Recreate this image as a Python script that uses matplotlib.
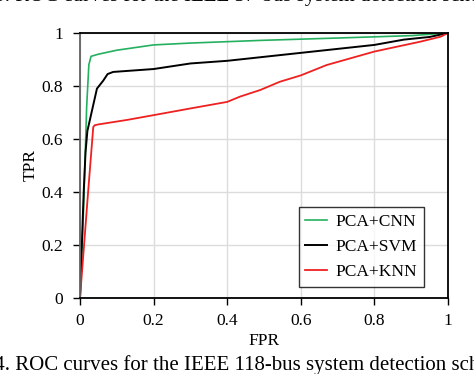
import matplotlib.pyplot as plt

# ROC data
cnn_fpr = [0, 0.01, 0.018, 0.024, 0.03, 0.05, 0.1, 0.2, 0.3, 0.49, 0.7, 0.9, 1.0]
cnn_tpr = [0, 0.35, 0.72, 0.88, 0.912, 0.92, 0.935, 0.955, 0.962, 0.972, 0.981, 0.99, 1.0]

svm_fpr = [0, 0.01, 0.015, 0.02, 0.033, 0.046, 0.063, 0.075, 0.09, 0.2, 0.3, 0.4, 0.5,
           0.6, 0.7, 0.8, 0.88, 0.95, 1.0]
svm_tpr = [0, 0.4, 0.55, 0.63, 0.71, 0.79, 0.82, 0.845, 0.853, 0.864, 0.885, 0.895, 0.91,
           0.925, 0.94, 0.955, 0.975, 0.985, 1.0]

knn_fpr = [0, 0.022, 0.036, 0.04, 0.05, 0.128, 0.2, 0.307, 0.4, 0.435, 0.49, 0.543, 0.6,
           0.67, 0.8, 0.924, 0.98, 1.0]
knn_tpr = [0, 0.4, 0.645, 0.652, 0.655, 0.672, 0.69, 0.717, 0.74, 0.76, 0.785, 0.816, 0.84,
           0.879, 0.93, 0.967, 0.986, 1.0]

ticks = [0, 0.2, 0.4, 0.6, 0.8, 1]
tick_labels = ["0", "0.2", "0.4", "0.6", "0.8", "1"]

plt.rcParams["font.family"] = ["Liberation Serif", "DejaVu Serif"]

fig = plt.figure(figsize=(4.74, 3.74), dpi=100)
ax = fig.add_axes([0.1688, 0.2032, 0.7764, 0.7086])

ax.plot(cnn_fpr, cnn_tpr, color="#25b060", lw=1.2, label="PCA+CNN")
ax.plot(svm_fpr, svm_tpr, color="black", lw=1.4, label="PCA+SVM")
ax.plot(knn_fpr, knn_tpr, color="#ee2020", lw=1.3, label="PCA+KNN")

ax.set_xlim(0, 1)
ax.set_ylim(0, 1)
ax.set_xticks(ticks)
ax.set_xticklabels(tick_labels)
ax.set_yticks(ticks)
ax.set_yticklabels(tick_labels)
ax.tick_params(direction="out", length=5, width=1, labelsize=12.5)
ax.tick_params(axis="x", pad=6)
ax.tick_params(axis="y", pad=7)
ax.grid(True, color="#dcdcdc", lw=1)
ax.set_axisbelow(True)

for side in ["top", "right", "bottom"]:
    ax.spines[side].set_color("black")
    ax.spines[side].set_linewidth(1.3)
ax.spines["left"].set_color("#606060")
ax.spines["left"].set_linewidth(1.3)

ax.set_xlabel("FPR", fontsize=12.5, labelpad=3)
ax.set_ylabel("TPR", fontsize=12.5, labelpad=2)

leg = ax.legend(loc="lower right", fontsize=12.5, frameon=True, fancybox=False,
                edgecolor="black", handlelength=1.25, handletextpad=0.45,
                borderpad=0.4, borderaxespad=0.2, labelspacing=0.5,
                bbox_to_anchor=(0.943, 0.03))
leg.get_frame().set_linewidth(1.0)

# captions cut by the crop of the page
fig.text(-0.092, 1.01, "Fig. 3. ROC curves for the IEEE 57-bus system detection scheme",
         fontsize=15, va="center", ha="left")
fig.text(-0.092, 0.024, "Fig. 4. ROC curves for the IEEE 118-bus system detection scheme",
         fontsize=15, va="center", ha="left")

fig.savefig("out.png", dpi=100)
